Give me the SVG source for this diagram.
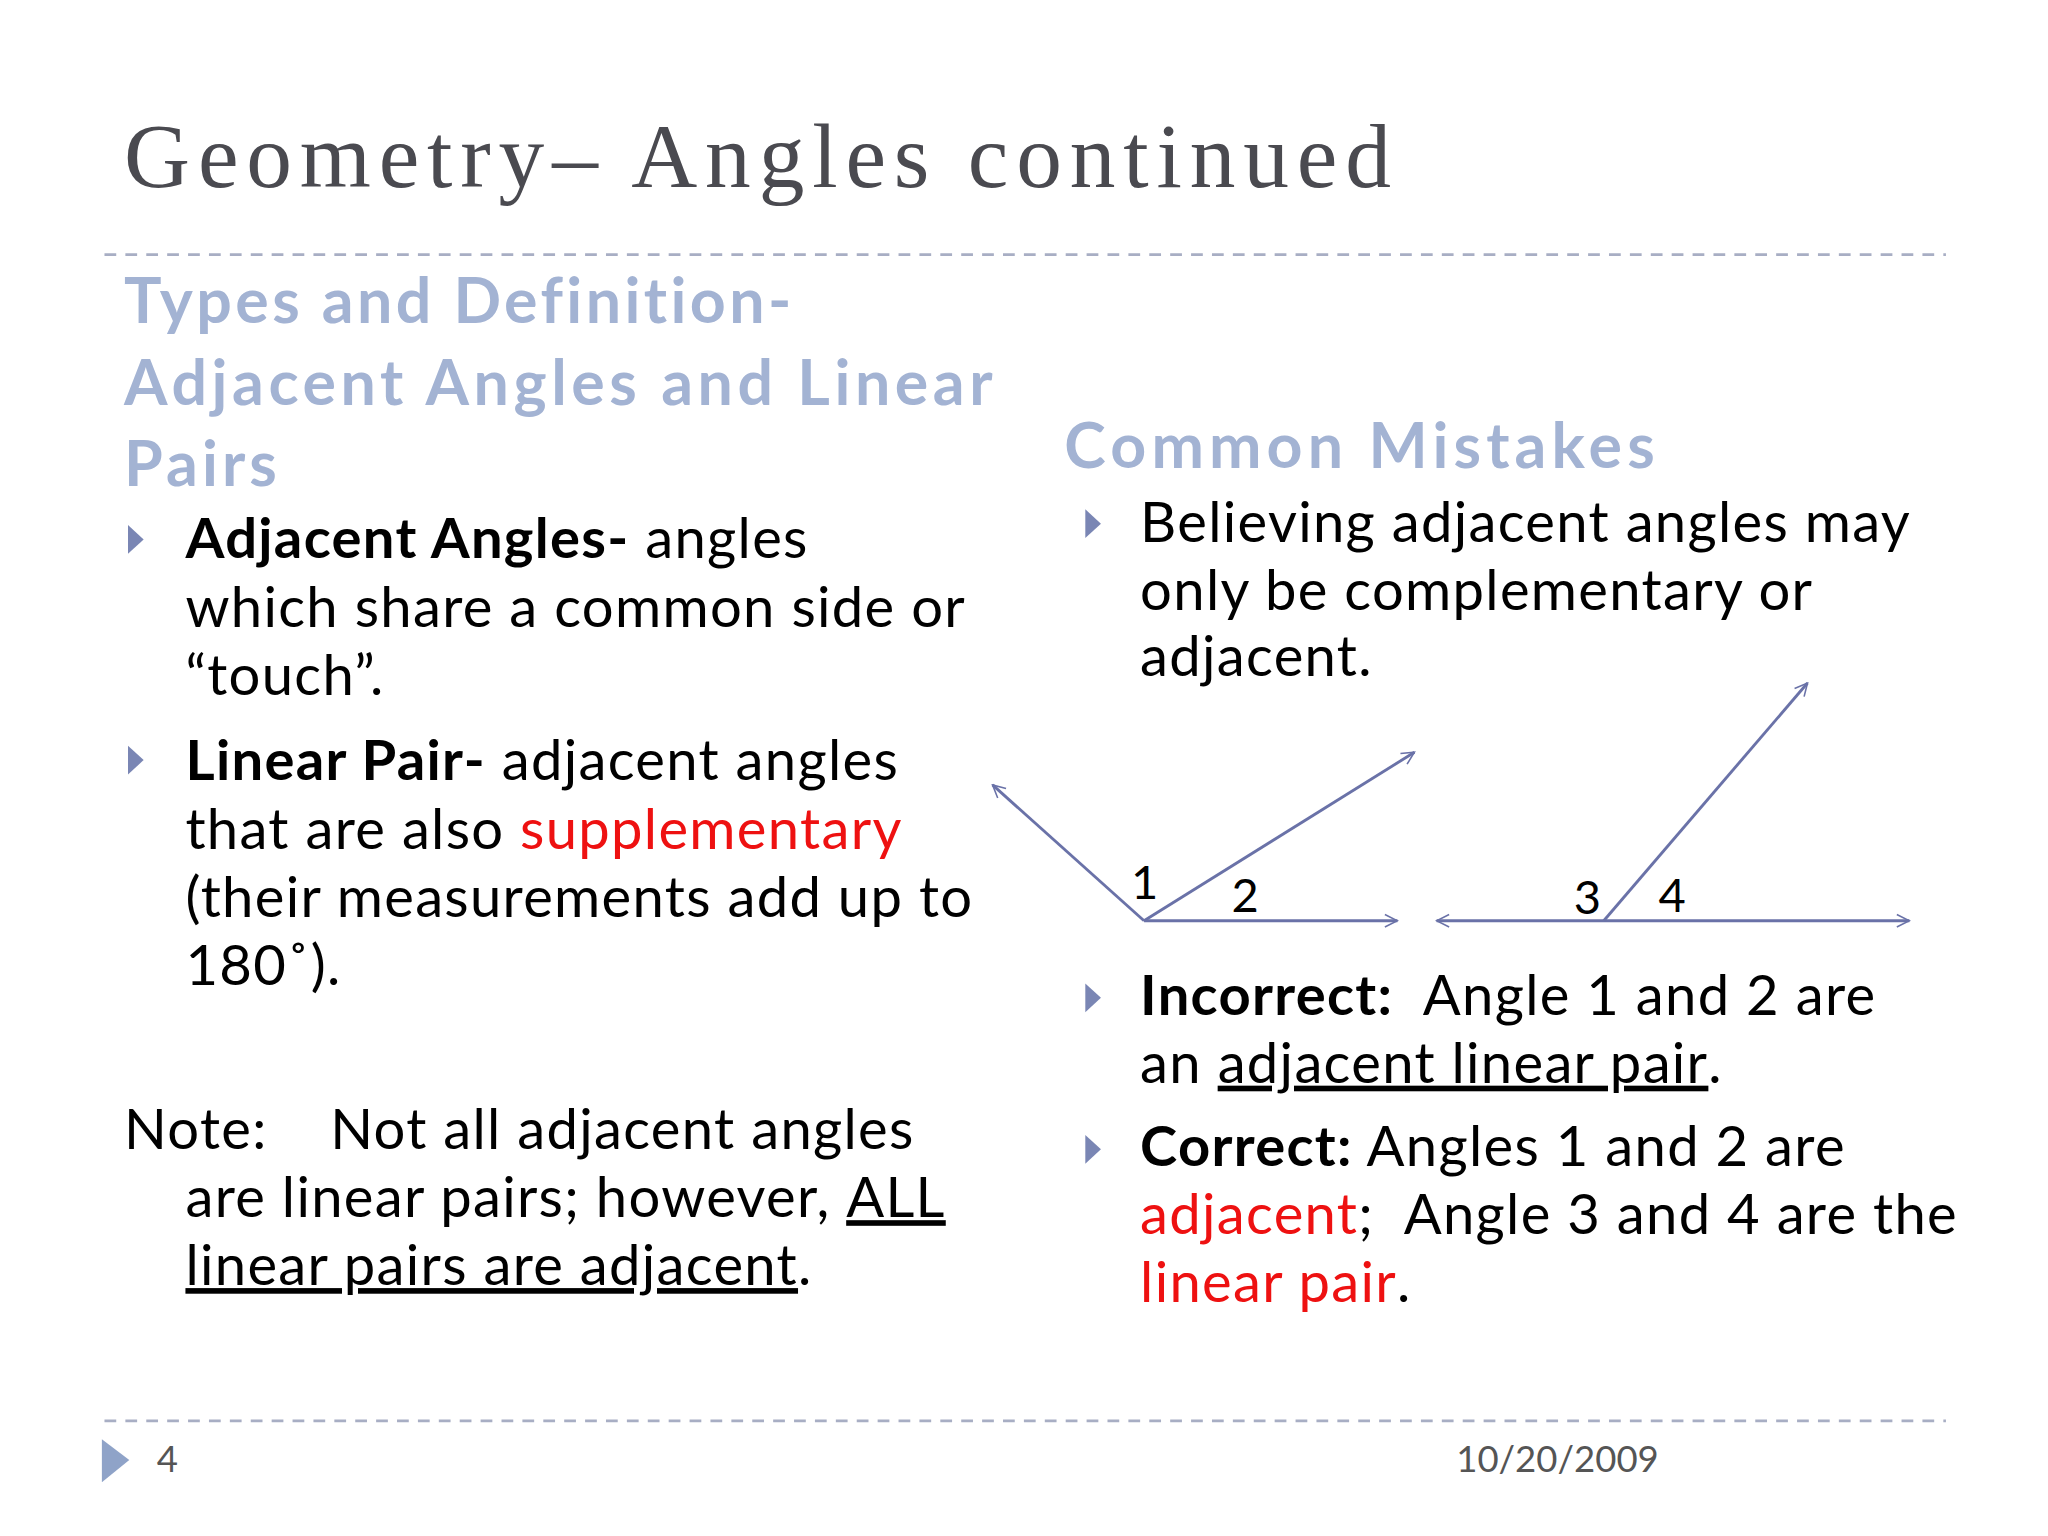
<svg xmlns="http://www.w3.org/2000/svg" width="2048" height="1536" viewBox="0 0 2048 1536">
<defs>
<style>
.t{font-family:Lato,"Liberation Sans",sans-serif;font-size:43px;fill:#000;letter-spacing:1px;white-space:pre}
.h{font-family:Lato,"Liberation Sans",sans-serif;font-size:48px;font-weight:bold;fill:#a3b3d3;letter-spacing:1px}
.b{font-weight:bold}
.r{fill:#ee1111}
.u{text-decoration:underline}
.dash{stroke:#a8aec4;stroke-width:2;stroke-dasharray:9 7}
.ln{stroke:#6a72a8;stroke-width:2.2;fill:none}
.bul{fill:#7a86b4}
.lbl{font-family:Lato,"Liberation Sans",sans-serif;font-size:36px;fill:#000}
</style>
<marker id="ah" viewBox="0 0 20 20" refX="18" refY="10" markerWidth="12" markerHeight="12" orient="auto-start-reverse" markerUnits="userSpaceOnUse"><path d="M2,2 L18,10 L2,18" fill="none" stroke="#6a72a8" stroke-width="2"/></marker>
</defs>
<rect width="2048" height="1536" fill="#fff"/>
<g transform="scale(1.306)">
<text x="95" y="143" font-family="'Liberation Serif',serif" font-size="70" fill="#4a4a50" textLength="970" lengthAdjust="spacing">Geometry– Angles continued</text>
<line class="dash" x1="80" y1="195" x2="1490" y2="195"/>
<line class="dash" x1="80" y1="1088" x2="1490" y2="1088"/>
<g id="left">
<text class="h" x="95" y="247" textLength="512">Types and Definition-</text>
<text class="h" x="95" y="310" textLength="666">Adjacent Angles and Linear</text>
<text class="h" x="95" y="372" textLength="118">Pairs</text>
<path class="bul" d="M98,402 L110,413 L98,424Z"/>
<text class="t" x="142" y="427"><tspan class="b">Adjacent Angles-</tspan> angles</text>
<text class="t" x="142" y="480">which share a common side or</text>
<text class="t" x="142" y="532">“touch”.</text>
<path class="bul" d="M98,571 L110,582 L98,593Z"/>
<text class="t" x="142" y="597"><tspan class="b">Linear Pair-</tspan> adjacent angles</text>
<text class="t" x="142" y="650">that are also <tspan class="r">supplementary</tspan></text>
<text class="t" x="142" y="702">(their measurements add up to</text>
<text class="t" x="142" y="754">180˚).</text>
<text class="t" x="95" y="880">Note:    Not all adjacent angles</text>
<text class="t" x="142" y="932">are linear pairs; however, <tspan class="u">ALL</tspan></text>
<text class="t" x="142" y="984"><tspan class="u">linear pairs are adjacent</tspan>.</text>
</g>
<g id="right">
<text class="h" x="815" y="358" textLength="453">Common Mistakes</text>
<path class="bul" d="M831,390 L843,401 L831,412Z"/>
<text class="t" x="873" y="415">Believing adjacent angles may</text>
<text class="t" x="873" y="467">only be complementary or</text>
<text class="t" x="873" y="518">adjacent.</text>
<path class="bul" d="M831,753 L843,764 L831,775Z"/>
<text class="t" x="873" y="777"><tspan class="b">Incorrect:</tspan>  Angle 1 and 2 are</text>
<text class="t" x="873" y="829">an <tspan class="u">adjacent linear pair</tspan>.</text>
<path class="bul" d="M831,869 L843,880 L831,891Z"/>
<text class="t" x="873" y="893"><tspan class="b">Correct:</tspan> Angles 1 and 2 are</text>
<text class="t" x="873" y="945"><tspan class="r">adjacent</tspan>;  Angle 3 and 4 are the</text>
<text class="t" x="873" y="997"><tspan class="r">linear pair</tspan>.</text>
</g>
<g id="connectors">
<line class="ln" x1="876" y1="705" x2="760" y2="601" marker-end="url(#ah)"/>
<line class="ln" x1="876" y1="705" x2="1083" y2="576" marker-end="url(#ah)"/>
<line class="ln" x1="876" y1="705" x2="1070" y2="705" marker-end="url(#ah)"/>
<line class="ln" x1="1100" y1="705" x2="1462" y2="705" marker-start="url(#ah)" marker-end="url(#ah)"/>
<line class="ln" x1="1228" y1="705" x2="1384" y2="523" marker-end="url(#ah)"/>
</g>
<text class="lbl" x="866" y="688">1</text>
<text class="lbl" x="943" y="698">2</text>
<text class="lbl" x="1205" y="700">3</text>
<text class="lbl" x="1270" y="698">4</text>
<path d="M78,1102 L99,1118 L78,1135Z" fill="#8fa3c8"/>
<text x="120" y="1127" font-family="Lato,'Liberation Sans',sans-serif" font-size="28" fill="#555">4</text>
<text x="1115" y="1127" font-family="Lato,'Liberation Sans',sans-serif" font-size="28" fill="#555">10/20/2009</text>
</g>
</svg>
